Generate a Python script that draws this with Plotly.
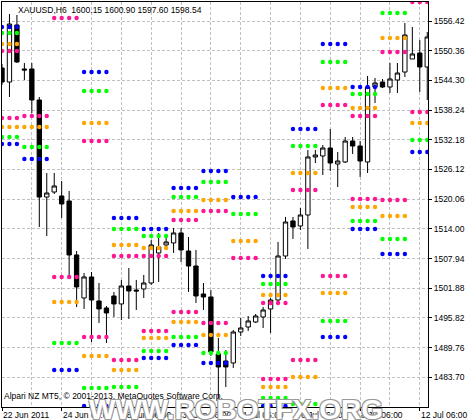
import plotly.graph_objects as go

# ---------------- data (H6 bars, index 0 = 22 Jun 2011 06:00) ----------------
bar_index = list(range(58))
open_ = [1546.83, 1543.97, 1555.61, 1546.63, 1546.63, 1540.30, 1520.50, 1521.52, 1520.71, 1519.69,
         1508.67, 1499.89, 1504.18, 1499.28, 1497.85, 1500.30, 1498.67, 1502.34, 1501.52, 1501.73,
         1502.95, 1509.08, 1510.71, 1511.12, 1513.16, 1509.48, 1506.42, 1500.71, 1500.10, 1488.46,
         1487.03, 1486.63, 1492.95, 1493.97, 1494.99, 1496.01, 1497.65, 1499.48, 1508.46, 1515.61,
         1514.59, 1516.83, 1528.67, 1528.87, 1530.50, 1527.24, 1527.65, 1531.93, 1530.91, 1527.65,
         1542.95, 1543.97, 1542.95, 1544.38, 1546.01, 1548.67, 1549.89, 1547.04]
close = [1543.97, 1555.81, 1548.06, 1546.42, 1540.30, 1520.50, 1521.32, 1522.75, 1519.08, 1508.67,
         1502.14, 1504.18, 1499.48, 1497.65, 1496.83, 1498.67, 1502.34, 1501.32, 1501.32, 1502.95,
         1510.71, 1510.30, 1511.32, 1513.16, 1509.69, 1506.42, 1500.30, 1500.10, 1488.87, 1485.81,
         1485.81, 1492.95, 1493.77, 1495.20, 1496.22, 1497.44, 1499.48, 1508.46, 1515.40, 1514.38,
         1516.83, 1528.67, 1529.08, 1530.50, 1527.44, 1527.85, 1531.93, 1530.91, 1527.85, 1542.95,
         1543.77, 1542.95, 1544.59, 1545.81, 1553.57, 1549.69, 1547.04, 1553.16]
high = [1547.65, 1557.85, 1557.65, 1547.85, 1547.85, 1540.91, 1525.40, 1525.40, 1523.77, 1521.73,
        1509.48, 1504.99, 1505.20, 1502.95, 1498.26, 1501.12, 1503.57, 1506.01, 1503.57, 1504.59,
        1511.73, 1513.16, 1512.34, 1514.18, 1514.18, 1512.34, 1509.69, 1502.95, 1501.52, 1491.73,
        1489.28, 1493.36, 1495.81, 1496.22, 1496.63, 1498.06, 1499.89, 1511.32, 1516.42, 1516.42,
        1518.26, 1530.10, 1530.10, 1531.12, 1534.38, 1529.69, 1532.75, 1532.75, 1531.93, 1545.20,
        1544.79, 1544.59, 1547.85, 1547.85, 1556.01, 1555.20, 1552.55, 1554.18]
low = [1543.36, 1540.91, 1547.85, 1544.38, 1537.65, 1514.38, 1512.55, 1521.12, 1516.22, 1504.38,
       1498.06, 1497.65, 1490.91, 1494.79, 1490.71, 1496.01, 1495.40, 1495.61, 1497.44, 1499.89,
       1502.55, 1503.16, 1510.30, 1509.08, 1507.24, 1501.12, 1498.87, 1497.44, 1488.06, 1479.48,
       1481.73, 1485.61, 1492.14, 1493.16, 1494.79, 1493.77, 1492.75, 1498.87, 1507.85, 1511.93,
       1513.77, 1509.89, 1527.44, 1524.99, 1525.81, 1522.55, 1527.44, 1529.28, 1524.59, 1525.40,
       1539.69, 1542.75, 1541.73, 1541.73, 1544.99, 1548.67, 1541.93, 1540.30]

# daily level dots: first bar of each day (4 bars per day)
day_start = [-1, 3, 7, 11, 15, 19, 23, 27, 31, 35, 39, 43, 47, 51, 55]
upper_blue = [1555.20, None, None, 1546.01, 1516.22, 1513.97, 1522.34, 1525.81, 1520.50, 1504.38, 1534.38, 1551.73, 1542.95, None, None]
upper_green = [1553.97, None, None, 1542.14, 1513.97, 1512.55, 1520.50, 1523.57, 1517.03, 1502.75, 1530.91, 1548.06, 1541.52, 1558.06, None]
upper_orange = [1551.73, None, None, 1535.61, 1510.71, 1510.10, 1517.65, 1519.89, 1511.52, 1500.50, 1525.40, 1542.75, 1538.67, 1552.95, None]
upper_pink = [1550.30, None, 1557.03, 1531.93, 1508.46, 1508.46, 1515.81, 1517.65, 1508.06, 1498.87, 1521.93, 1539.28, 1537.03, 1550.10, 1560.30]
lower_pink = [1536.63, 1537.03, 1504.18, 1491.93, 1487.24, 1493.16, 1497.03, 1494.79, None, 1483.36, 1487.24, 1504.38, 1520.10, 1519.89, 1537.85]
lower_orange = [1534.79, 1534.79, 1499.08, 1488.06, 1485.20, 1491.73, 1494.99, 1492.34, None, 1481.73, 1483.77, 1500.91, 1518.46, 1516.63, 1535.61]
lower_green = [1532.75, 1530.71, 1490.71, 1481.52, 1481.73, 1489.08, 1491.93, 1488.67, None, 1479.48, 1478.26, 1495.20, 1515.61, 1511.93, 1532.14]
lower_blue = [1531.32, 1528.26, 1485.20, 1477.85, None, 1487.65, 1490.30, 1486.63, None, 1477.85, None, 1491.93, 1513.97, 1508.87, 1529.69]

price_ticks = [1556.42, 1550.36, 1544.30, 1538.24, 1532.18, 1526.12, 1520.06,
               1514.00, 1507.94, 1501.88, 1495.82, 1489.76, 1483.70]
time_label_bars = [0, 8, 16, 24, 32, 40, 48, 56]
time_labels = ["22 Jun 2011", "24 Jun 06:00", "28 Jun 06:00", "30 Jun 06:00",
               "4 Jul 06:00", "6 Jul 06:00", "8 Jul 06:00", "12 Jul 06:00"]
header_text = "XAUUSD,H6\u00a0\u00a01600.15 1600.90 1597.60 1598.54"
copyright_text = "Alpari NZ MT5, \u00a9 2001-2013, MetaQuotes Software Corp."
watermark_text = "WWW.ROBOTFX.ORG"

# ---------------- figure ----------------
FONT = "Liberation Sans, Arial, sans-serif"
fig = go.Figure()

fig.add_trace(go.Candlestick(
    x=bar_index, open=open_, high=high, low=low, close=close,
    increasing=dict(fillcolor="white", line=dict(color="black", width=1)),
    decreasing=dict(fillcolor="black", line=dict(color="black", width=1)),
    whiskerwidth=0, hoverinfo="skip", showlegend=False,
))


def dots(levels_list):
    xs, ys = [], []
    for levels in levels_list:
        for s, v in zip(day_start, levels):
            if v is None:
                continue
            for j in range(4):
                xs.append(s + j)
                ys.append(v)
    return xs, ys


for color, lv in [("#0000FF", [upper_blue, lower_blue]),
                  ("#00FF00", [upper_green, lower_green]),
                  ("#FFA500", [upper_orange, lower_orange]),
                  ("#FF1493", [upper_pink, lower_pink])]:
    xs, ys = dots(lv)
    fig.add_trace(go.Scatter(x=xs, y=ys, mode="markers",
                             marker=dict(color=color, size=4.4, line=dict(width=0)),
                             hoverinfo="skip", showlegend=False))

grid = dict(showgrid=True, gridcolor="#C0C0C0", gridwidth=1, griddash="3px,2px")

fig.update_layout(
    template="none",
    width=474, height=420,
    margin=dict(l=2, r=46, t=2, b=13, pad=0),
    paper_bgcolor="white", plot_bgcolor="white",
    showlegend=False,
    boxgap=0.42, boxgroupgap=0.0,
    font=dict(family=FONT, size=8.5, color="black"),
    xaxis=dict(
        range=[0, 57.1], autorange=False, rangeslider=dict(visible=False),
        tickvals=time_label_bars, showticklabels=False,
        ticks="outside", ticklen=3, tickcolor="black",
        showline=True, linecolor="black", linewidth=1, mirror=True,
        zeroline=False,
        minor=dict(tickvals=[4, 12, 20, 28, 36, 44, 52], showgrid=True,
                   gridcolor="#C0C0C0", gridwidth=1, griddash="3px,2px", ticks=""),
        automargin=False,
        **grid,
    ),
    yaxis=dict(
        range=[1477.64, 1560.30], autorange=False, side="right",
        tickvals=price_ticks, ticktext=[f"{v:.2f}" for v in price_ticks],
        ticks="outside", ticklen=3, tickcolor="black",
        tickfont=dict(family=FONT, size=8.5, color="black"),
        showline=True, linecolor="black", linewidth=1, mirror=True,
        zeroline=False, automargin=False,
        **grid,
    ),
)

annotations = []
for b, t in zip(time_label_bars, time_labels):
    annotations.append(dict(x=b, xref="x", y=0, yref="paper", text=t, showarrow=False,
                            xanchor="left", yanchor="top", yshift=-1, xshift=-1,
                            font=dict(family=FONT, size=8.5, color="black")))
annotations.append(dict(x=0, xref="paper", y=1, yref="paper", text=header_text, showarrow=False,
                        xanchor="left", yanchor="top", xshift=14, yshift=-1,
                        font=dict(family=FONT, size=8.5, color="black")))
annotations.append(dict(x=0, xref="paper", y=0, yref="paper", text=copyright_text, showarrow=False,
                        xanchor="left", yanchor="bottom", xshift=0, yshift=4,
                        font=dict(family=FONT, size=8.5, color="black")))
annotations.append(dict(x=0.549, xref="paper", y=0, yref="paper", text=watermark_text, showarrow=False,
                        xanchor="center", yanchor="middle", yshift=-2,
                        font=dict(family=FONT, size=28, color="white", weight="bold",
                                  shadow="1px 1px 0 #999, -1px -1px 0 #999, 1px -1px 0 #999, -1px 1px 0 #999")))
fig.update_layout(annotations=annotations)

fig.write_html("out.html", config={"displayModeBar": False},
               post_script="document.body.style.margin='0px';")
